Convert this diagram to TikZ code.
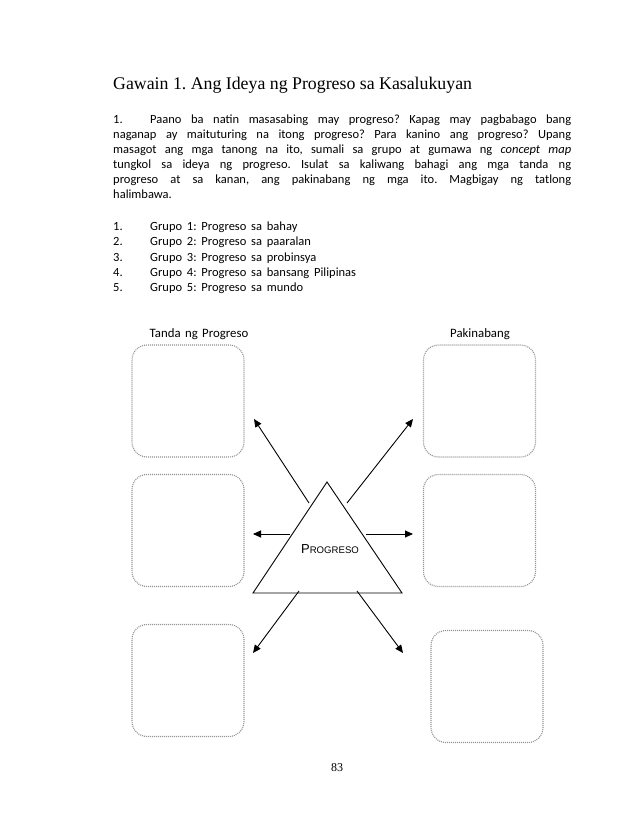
\documentclass[tikz,border=0pt]{standalone}
\usepackage{fontspec}
\setmainfont{Carlito}
\newfontfamily\titlefont{Liberation Serif}
\newfontfamily\helvface{Liberation Sans}
\usetikzlibrary{arrows.meta, positioning}
\frenchspacing

\tikzset{
  answerbox/.style={draw=gray!85, dash pattern=on 1pt off 1pt, line width=1.1pt, rounded corners=15pt,
    minimum width=112pt, minimum height=112pt, inner sep=0},
  outarrow/.style={line width=0.9pt, -{Triangle[length=8pt,width=7pt]}},
  bodytext/.style={anchor=base west, inner sep=0, font=\fontsize{12.5}{15}\selectfont},
  listtext/.style={bodytext, execute at begin node={\spaceskip=4.8pt plus 1pt minus 1pt}},
  headtext/.style={anchor=base, inner sep=0, font=\fontsize{12.8}{15}\selectfont,
    execute at begin node={\spaceskip=4.4pt plus 1pt minus 1pt}},
}

\begin{document}
\begin{tikzpicture}[x=1pt,y=-1pt]
  \useasboundingbox[fill=white] (0,0) rectangle (638,826);

  % Heading and instructions
  \node[anchor=base west, inner sep=0, font=\titlefont\fontsize{17.8}{21}\selectfont] (title) at (113,90)
    {Gawain 1. Ang Ideya ng Progreso sa Kasalukuyan};
  \node[bodytext, text width=458pt, align=justify] (para) at (113,124)
    {\hyphenpenalty=10000
     \makebox[37pt][l]{1.}Paano ba natin masasabing may progreso? Kapag may pagbabago bang\linebreak
     naganap ay maituturing na itong progreso? Para kanino ang progreso? Upang\linebreak
     masagot ang mga tanong na ito, sumali sa grupo at gumawa ng \emph{concept map}\linebreak
     tungkol sa ideya ng progreso. Isulat sa kaliwang bahagi ang mga tanda ng\linebreak
     progreso at sa kanan, ang pakinabang ng mga ito. Magbigay ng tatlong\linebreak
     halimbawa.};

  % Groups
  \node[listtext] (item1) at (113,230.5) {\makebox[37pt][l]{1.}Grupo 1: Progreso sa bahay};
  \node[listtext] (item2) at (113,245.8) {\makebox[37pt][l]{2.}Grupo 2: Progreso sa paaralan};
  \node[listtext] (item3) at (113,261.1) {\makebox[37pt][l]{3.}Grupo 3: Progreso sa probinsya};
  \node[listtext] (item4) at (113,276.4) {\makebox[37pt][l]{4.}Grupo 4: Progreso sa bansang Pilipinas};
  \node[listtext] (item5) at (113,291.7) {\makebox[37pt][l]{5.}Grupo 5: Progreso sa mundo};

  % Column headings
  \node[headtext] (tanda) at (199,337) {Tanda ng Progreso};
  \node[headtext] (pakinabang) at (480,337) {Pakinabang};

  % Answer boxes
  \node[answerbox] (boxTL) at (188,401) {};
  \node[answerbox] (boxML) at (188,530.5) {};
  \node[answerbox] (boxBL) at (188,680.5) {};
  \node[answerbox] (boxTR) at (479.5,401) {};
  \node[answerbox] (boxMR) at (479.5,530.5) {};
  \node[answerbox] (boxBR) at (487,686.5) {};

  % Central triangle
  \coordinate (apex) at (327,482);
  \coordinate (baseR) at (402,593);
  \coordinate (baseL) at (253,593);
  \draw[line width=0.9pt] (apex) -- (baseR) -- (baseL) -- cycle;
  \node[inner sep=0, font=\helvface] (prog) at (330,549)
    {\fontsize{13}{15}\selectfont P\fontsize{9.6}{12}\selectfont ROGRESO};

  % Arrows out of the triangle
  \coordinate (ulTail) at (309,503);  \coordinate (ulHead) at (254,419);
  \coordinate (urTail) at (347,503);  \coordinate (urHead) at (413,419);
  \coordinate (lTail)  at (290,534);  \coordinate (lHead)  at (253,534);
  \coordinate (rTail)  at (366,534);  \coordinate (rHead)  at (413,534);
  \coordinate (llTail) at (299,591);  \coordinate (llHead) at (253,653);
  \coordinate (lrTail) at (357,591);  \coordinate (lrHead) at (403,653);
  \draw[outarrow] (ulTail) -- (ulHead);
  \draw[outarrow] (urTail) -- (urHead);
  \draw[outarrow] (lTail) -- (lHead);
  \draw[outarrow] (rTail) -- (rHead);
  \draw[outarrow] (llTail) -- (llHead);
  \draw[outarrow] (lrTail) -- (lrHead);

  % Page number
  \node[anchor=base, inner sep=0, font=\titlefont\fontsize{12}{14}\selectfont] (pagenum) at (337,771) {83};
\end{tikzpicture}
\end{document}
